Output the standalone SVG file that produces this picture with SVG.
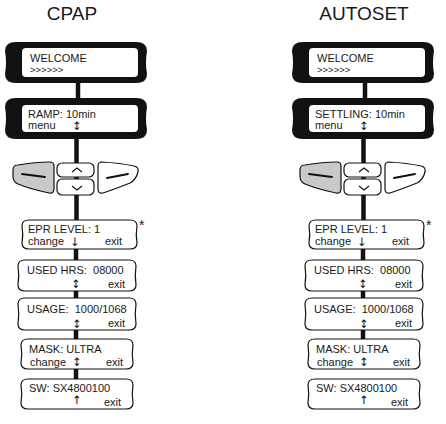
<svg xmlns="http://www.w3.org/2000/svg" width="446" height="424" viewBox="0 0 446 424">
<defs>
<style>
text{font-family:"Liberation Sans",Arial,"DejaVu Sans",sans-serif;font-size:11px;fill:#1a1a1a}
.title{font-size:19px;text-anchor:middle}
.small{font-size:9.5px}
.arr{font-family:"DejaVu Sans","Liberation Sans",sans-serif;font-size:11.5px;text-anchor:middle;fill:#111}
.ast{font-size:14px}
.dark{fill:#111}
.scr{fill:#fff}
.box{fill:#fff;stroke:#111;stroke-width:1.2}
.btn{fill:#fff;stroke:#111;stroke-width:1.2}
.gray{fill:#c9c9c9;stroke:#111;stroke-width:1.2}
.dash{fill:none;stroke:#111;stroke-width:1.8;stroke-linecap:round}
.chev{fill:none;stroke:#111;stroke-width:1.2}
.con{stroke:#111;stroke-width:4.5;fill:none}
</style>
</defs>

<text class="title" x="72" y="20">CPAP</text>
<text class="title" x="364" y="20">AUTOSET</text>

<g id="connectors">
<line class="con" x1="78" y1="83" x2="78" y2="98"/>
<line class="con" x1="76.5" y1="139" x2="76.5" y2="220"/>
<line class="con" x1="76" y1="248" x2="76" y2="260"/>
<line class="con" x1="76" y1="291" x2="76" y2="298"/>
<line class="con" x1="76" y1="330" x2="76" y2="339"/>
<line class="con" x1="76" y1="369" x2="76" y2="379"/>
<line class="con" x1="365" y1="83" x2="365" y2="98"/>
<line class="con" x1="363.5" y1="139" x2="363.5" y2="220"/>
<line class="con" x1="363" y1="248" x2="363" y2="260"/>
<line class="con" x1="363" y1="291" x2="363" y2="298"/>
<line class="con" x1="363" y1="330" x2="363" y2="339"/>
</g>

<!-- CPAP column -->
<g id="cpap-welcome">
<path class="dark" d="M16,42 L136,42 Q147,42 147,51 Q145,62.5 147,74 Q147,83 136,83 L16,83 Q5,83 5,74 Q7,62.5 5,51 Q5,42 16,42 Z"/>
<rect class="scr" x="22" y="48" width="116" height="29" rx="4"/>
<text x="30" y="61.5">WELCOME</text>
<text class="small" x="30" y="72.5">&gt;&gt;&gt;&gt;&gt;&gt;</text>
</g>
<g id="cpap-ramp">
<path class="dark" d="M16,98 L136,98 Q147,98 147,107 Q145,118.5 147,130 Q147,139 136,139 L16,139 Q5,139 5,130 Q7,118.5 5,107 Q5,98 16,98 Z"/>
<rect class="scr" x="22" y="105" width="116" height="27" rx="4"/>
<text x="28" y="117.5">RAMP: 10min</text>
<text x="28" y="129">menu</text>
<text class="arr" x="77" y="130">↕</text>
</g>
<g id="cpap-buttons">
<path class="gray" d="M18,165 Q35,162 50,162 Q54,162 54,166 L54,189 Q54,194 49,193 Q30,189 18,184 Q13,182 13,176 L13,170 Q13,165 18,165 Z"/>
<path class="dash" d="M22,174 L45,177"/>
<rect class="btn" x="57" y="163" width="37" height="14" rx="5"/>
<path class="chev" d="M72,172 L77,168 L82,172"/>
<rect class="btn" x="57" y="179" width="37" height="16" rx="5"/>
<path class="chev" d="M72,186 L77,190 L82,186"/>
<path class="btn" d="M98,166 Q98,162 102,162 Q120,163 134,166 Q139,167 138,172 Q136,180 130,183 Q115,189 103,193 Q98,194 98,189 Z"/>
<path class="dash" d="M107,178 L128,174"/>
</g>
<g id="cpap-epr">
<path class="box" d="M29,220 L130,220 Q137,220 137,226 Q135.5,234.5 137,243 Q137,249 130,249 L29,249 Q22,249 22,243 Q23.5,234.5 22,226 Q22,220 29,220 Z"/>
<text x="28" y="232.5">EPR LEVEL: 1</text>
<text x="28" y="244.5">change</text>
<text class="arr" x="75" y="245.5">↓</text>
<text x="105" y="244.5">exit</text>
<text class="ast" x="139" y="230">*</text>
</g>
<g id="cpap-used">
<path class="box" d="M25,260 L129,260 Q136,260 136,266 Q134.5,275.5 136,285 Q136,291 129,291 L25,291 Q18,291 18,285 Q19.5,275.5 18,266 Q18,260 25,260 Z"/>
<text x="27" y="273.5" xml:space="preserve">USED HRS:  08000</text>
<text class="arr" x="76" y="288">↕</text>
<text x="108" y="287.5">exit</text>
</g>
<g id="cpap-usage">
<path class="box" d="M25,298 L129,298 Q136,298 136,304 Q134.5,314 136,324 Q136,330 129,330 L25,330 Q18,330 18,324 Q19.5,314 18,304 Q18,298 25,298 Z"/>
<text x="27" y="313" xml:space="preserve">USAGE:  1000/1068</text>
<text class="arr" x="77" y="327.5">↕</text>
<text x="108" y="327">exit</text>
</g>
<g id="cpap-mask">
<path class="box" d="M28,339 L126,339 Q133,339 133,345 Q131.5,354 133,363 Q133,369 126,369 L28,369 Q21,369 21,363 Q22.5,354 21,345 Q21,339 28,339 Z"/>
<text x="29" y="352.5">MASK: ULTRA</text>
<text x="30" y="365.5">change</text>
<text class="arr" x="77" y="366">↕</text>
<text x="106" y="365.5">exit</text>
</g>
<g id="cpap-sw">
<path class="box" d="M28,379 L126,379 Q133,379 133,385 Q131.5,394 133,403 Q133,409 126,409 L28,409 Q21,409 21,403 Q22.5,394 21,385 Q21,379 28,379 Z"/>
<text x="29" y="391.5">SW: SX4800100</text>
<text class="arr" x="77" y="404">↑</text>
<text x="104" y="405.5">exit</text>
</g>

<!-- AUTOSET column -->
<g id="autoset-welcome" transform="translate(287,0)">
<path class="dark" d="M16,42 L136,42 Q147,42 147,51 Q145,62.5 147,74 Q147,83 136,83 L16,83 Q5,83 5,74 Q7,62.5 5,51 Q5,42 16,42 Z"/>
<rect class="scr" x="22" y="48" width="116" height="29" rx="4"/>
<text x="30" y="61.5">WELCOME</text>
<text class="small" x="30" y="72.5">&gt;&gt;&gt;&gt;&gt;&gt;</text>
</g>
<g id="autoset-settling" transform="translate(287,0)">
<path class="dark" d="M16,98 L136,98 Q147,98 147,107 Q145,118.5 147,130 Q147,139 136,139 L16,139 Q5,139 5,130 Q7,118.5 5,107 Q5,98 16,98 Z"/>
<rect class="scr" x="22" y="105" width="116" height="27" rx="4"/>
<text x="28" y="117.5">SETTLING: 10min</text>
<text x="28" y="129">menu</text>
<text class="arr" x="77" y="130">↕</text>
</g>
<g id="autoset-buttons" transform="translate(287,0)">
<path class="gray" d="M18,165 Q35,162 50,162 Q54,162 54,166 L54,189 Q54,194 49,193 Q30,189 18,184 Q13,182 13,176 L13,170 Q13,165 18,165 Z"/>
<path class="dash" d="M22,174 L45,177"/>
<rect class="btn" x="57" y="163" width="37" height="14" rx="5"/>
<path class="chev" d="M72,172 L77,168 L82,172"/>
<rect class="btn" x="57" y="179" width="37" height="16" rx="5"/>
<path class="chev" d="M72,186 L77,190 L82,186"/>
<path class="btn" d="M98,166 Q98,162 102,162 Q120,163 134,166 Q139,167 138,172 Q136,180 130,183 Q115,189 103,193 Q98,194 98,189 Z"/>
<path class="dash" d="M107,178 L128,174"/>
</g>
<g id="autoset-epr" transform="translate(287,0)">
<path class="box" d="M29,220 L130,220 Q137,220 137,226 Q135.5,234.5 137,243 Q137,249 130,249 L29,249 Q22,249 22,243 Q23.5,234.5 22,226 Q22,220 29,220 Z"/>
<text x="28" y="232.5">EPR LEVEL: 1</text>
<text x="28" y="244.5">change</text>
<text class="arr" x="75" y="245.5">↓</text>
<text x="105" y="244.5">exit</text>
<text class="ast" x="139" y="230">*</text>
</g>
<g id="autoset-used" transform="translate(287,0)">
<path class="box" d="M25,260 L129,260 Q136,260 136,266 Q134.5,275.5 136,285 Q136,291 129,291 L25,291 Q18,291 18,285 Q19.5,275.5 18,266 Q18,260 25,260 Z"/>
<text x="27" y="273.5" xml:space="preserve">USED HRS:  08000</text>
<text class="arr" x="76" y="288">↕</text>
<text x="108" y="287.5">exit</text>
</g>
<g id="autoset-usage" transform="translate(287,0)">
<path class="box" d="M25,298 L129,298 Q136,298 136,304 Q134.5,314 136,324 Q136,330 129,330 L25,330 Q18,330 18,324 Q19.5,314 18,304 Q18,298 25,298 Z"/>
<text x="27" y="313" xml:space="preserve">USAGE:  1000/1068</text>
<text class="arr" x="77" y="327.5">↕</text>
<text x="108" y="327">exit</text>
</g>
<g id="autoset-mask" transform="translate(287,0)">
<path class="box" d="M28,339 L126,339 Q133,339 133,345 Q131.5,354 133,363 Q133,369 126,369 L28,369 Q21,369 21,363 Q22.5,354 21,345 Q21,339 28,339 Z"/>
<text x="29" y="352.5">MASK: ULTRA</text>
<text x="30" y="365.5">change</text>
<text class="arr" x="77" y="366">↕</text>
<text x="106" y="365.5">exit</text>
</g>
<g id="autoset-sw" transform="translate(287,0)">
<path class="box" d="M28,379 L126,379 Q133,379 133,385 Q131.5,394 133,403 Q133,409 126,409 L28,409 Q21,409 21,403 Q22.5,394 21,385 Q21,379 28,379 Z"/>
<text x="29" y="391.5">SW: SX4800100</text>
<text class="arr" x="77" y="404">↑</text>
<text x="104" y="405.5">exit</text>
</g>
</svg>
